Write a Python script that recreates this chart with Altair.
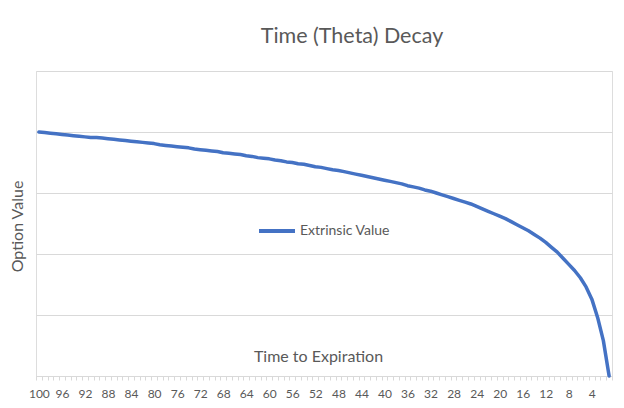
import altair as alt
import pandas as pd

# Time to expiration categories (100 down to 1)
time_left = list(range(100, 0, -1))
# Extrinsic (time) value
extrinsic = [
    40.0, 39.9, 39.8, 39.7, 39.6, 39.5, 39.4, 39.3, 39.2, 39.1,   # 100-91
    39.1, 39.0, 38.9, 38.8, 38.7, 38.6, 38.5, 38.4, 38.3, 38.2,   # 90-81
    38.1, 37.9, 37.8, 37.7, 37.6, 37.5, 37.4, 37.2, 37.1, 37.0,   # 80-71
    36.9, 36.8, 36.6, 36.5, 36.4, 36.3, 36.1, 36.0, 35.8, 35.7,   # 70-61
    35.6, 35.4, 35.3, 35.1, 35.0, 34.8, 34.7, 34.5, 34.3, 34.2,   # 60-51
    34.0, 33.8, 33.7, 33.5, 33.3, 33.1, 32.9, 32.7, 32.5, 32.3,   # 50-41
    32.1, 31.9, 31.7, 31.5, 31.2, 31.0, 30.8, 30.5, 30.3, 30.0,   # 40-31
    29.7, 29.4, 29.1, 28.8, 28.5, 28.2, 27.8, 27.4, 27.0, 26.6,   # 30-21
    26.2, 25.8, 25.3, 24.8, 24.3, 23.8, 23.2, 22.6, 21.9, 21.1,   # 20-11
    20.3, 19.3, 18.3, 17.3, 16.1, 14.6, 12.6, 9.6, 5.8, 0.0,      # 10-1
]
series_name = "Extrinsic Value"
label_values = list(range(100, 0, -4))
grid_values = [0, 10, 20, 30, 40, 50]
tick_values = [t + 0.5 for t in range(0, 101)]

df = pd.DataFrame({"t": time_left, "v": extrinsic, "s": series_name})

GRAY_TEXT = "#595959"
GRID = "#d9d9d9"
FONT = "Lato"

xscale = alt.Scale(domain=[0.5, 100.5], reverse=True, nice=False, zero=False)
yscale = alt.Scale(domain=[0, 50], nice=False, zero=True)

line = alt.Chart(df).mark_line(
    strokeWidth=3.5, strokeCap="round", strokeJoin="round"
).encode(
    x=alt.X(
        "t:Q", scale=xscale,
        axis=alt.Axis(
            values=label_values, format="d", title="Time to Expiration",
            titleX=282, titleY=-15, titleBaseline="alphabetic", titleAlign="center",
            titleFontSize=16, titleFontWeight="normal", titleColor=GRAY_TEXT, titleFont=FONT,
            labelFont=FONT, labelFontSize=12, labelColor=GRAY_TEXT, labelPadding=12,
            labelOverlap=False, labelFlush=False,
            ticks=False, grid=False, domainColor=GRID, domainWidth=1,
        ),
    ),
    y=alt.Y(
        "v:Q", scale=yscale,
        axis=alt.Axis(
            values=grid_values, labels=False, ticks=False, domain=False,
            grid=True, gridColor=GRID, gridWidth=1,
            title="Option Value", titleAngle=270, titleX=-13.5, titleY=155,
            titleAlign="center", titleBaseline="alphabetic",
            titleFontSize=16, titleFontWeight="normal", titleColor=GRAY_TEXT, titleFont=FONT,
        ),
    ),
    color=alt.Color(
        "s:N", scale=alt.Scale(range=["#4472C4"]),
        legend=alt.Legend(
            title=None, orient="none", legendX=221, legendY=140,
            symbolType="stroke", symbolSize=1296, symbolStrokeWidth=4,
            labelFont=FONT, labelFontSize=14, labelColor=GRAY_TEXT, labelOffset=3,
        ),
    ),
)

ticks = alt.Chart(df).mark_point(opacity=0).encode(
    x=alt.X(
        "t:Q", scale=xscale,
        axis=alt.Axis(
            orient="bottom", values=tick_values, labels=False, domain=False,
            grid=False, ticks=True, tickSize=4, tickColor=GRID, title=None,
        ),
    ),
)

chart = alt.layer(line, ticks).resolve_axis(x="independent").properties(
    width=576, height=305,
    title=alt.TitleParams(
        "Time (Theta) Decay", fontSize=21.5, font=FONT, fontWeight="normal",
        color=GRAY_TEXT, dx=28, offset=7, baseline="alphabetic", anchor="middle",
    ),
    autosize=alt.AutoSizeParams(type="none"),
    padding={"left": 28, "top": 63, "right": 4, "bottom": 24},
).configure_view(
    stroke="transparent", strokeWidth=0, strokeOpacity=0, fill="white"
).configure_axis(gridColor=GRID).configure_axisX(grid=False).configure(background="white")

chart.save("out.html", embed_options={"renderer": "svg", "actions": False})
